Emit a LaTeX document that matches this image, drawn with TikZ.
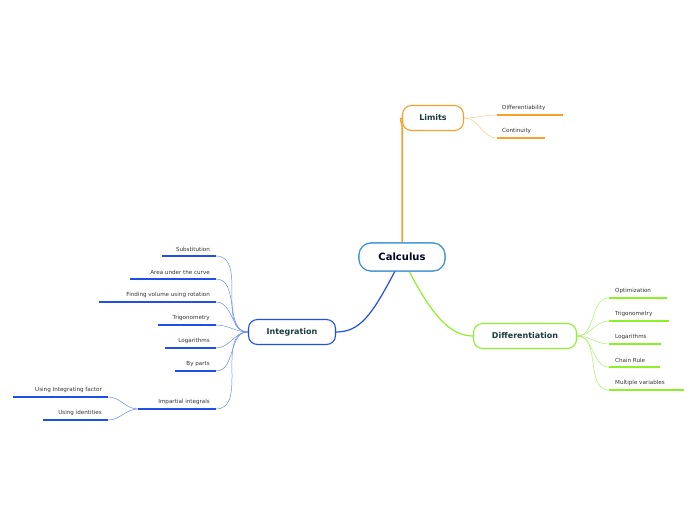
\documentclass[tikz,border=0pt]{standalone}
\usepackage{fontspec}
\setmainfont{DejaVu Sans}
\definecolor{calcblue}{HTML}{3B8FD6}
\definecolor{limorange}{HTML}{F7A12A}
\definecolor{difgreen}{HTML}{8CF02A}
\definecolor{intblue}{HTML}{1F4FE8}
\definecolor{nodetext}{HTML}{1A3D3A}
\tikzset{
  topic/.style={draw, rounded corners=9pt, line width=1.1pt, fill=white, font=\bfseries\fontsize{8}{9}\selectfont, text=nodetext, minimum height=25pt, inner xsep=8pt},
  leaf/.style={font=\fontsize{5.6}{6.5}\selectfont, text=black!80, inner sep=1pt},
  twig/.style={line width=0.5pt}
}
\begin{document}
\begin{tikzpicture}[x=1pt,y=-1pt]
  \useasboundingbox (0,0) rectangle (696,520);
  % main topic and its branches
  \node[topic, draw=calcblue, text=black!60!blue!40!black, font=\bfseries\fontsize{10}{12}\selectfont, minimum width=86pt, minimum height=28pt, rounded corners=12pt] (calc) at (402,257) {Calculus};
  \node[topic, draw=limorange, minimum width=61pt] (lim) at (433,118) {Limits};
  \node[topic, draw=difgreen, minimum width=103pt] (dif) at (525,336) {Differentiation};
  \node[topic, draw=intblue, minimum width=87pt] (int) at (292,332) {Integration};

  \draw[limorange, line width=1.5pt] (calc.north) -- (402,126) to[out=90,in=180] (lim.west);
  \draw[intblue, line width=1.2pt] (395,271) .. controls (372,315) and (360,332) .. (int.east);
  \draw[difgreen, line width=1.2pt] (409,271) .. controls (432,315) and (450,336) .. (dif.west);
  \node[topic, draw=calcblue, text=black!60!blue!40!black, font=\bfseries\fontsize{10}{12}\selectfont, minimum width=86pt, minimum height=28pt, rounded corners=12pt] at (calc) {Calculus};

  % Limits
  \foreach \txt/\y/\xe [count=\i] in {Differentiability/115/563, Continuity/138/545} {
    \coordinate (l\i) at (497,\y);
    \draw[limorange, line width=1.2pt] (l\i) -- (\xe,\y);
    \node[leaf, anchor=south west] at (501,\y-3) {\txt};
    \draw[twig, limorange!55] (lim.east) to[out=0,in=180] (l\i);
  }

  % Differentiation
  \foreach \txt/\y/\xe [count=\i] in {Optimization/298/667, Trigonometry/321/669, Logarithms/344/661, Chain Rule/367/660, Multiple variables/390/684} {
    \coordinate (d\i) at (609,\y);
    \draw[difgreen, line width=1.2pt] (d\i) -- (\xe,\y);
    \node[leaf, anchor=south west] at (614,\y-3) {\txt};
    \draw[twig, difgreen!75] (dif.east) to[out=0,in=180] (d\i);
  }

  % Integration
  \foreach \txt/\y/\xs [count=\i] in {Substitution/256/162, Area under the curve/279/130, Finding volume using rotation/302/99, Trigonometry/325/158, Logarithms/348/165, By parts/371/175, Impartial integrals/409/138} {
    \coordinate (i\i) at (216,\y);
    \draw[intblue, line width=1.2pt] (\xs,\y) -- (i\i);
    \node[leaf, anchor=south east] at (211,\y-3) {\txt};
    \draw[twig, intblue!65] (int.west) to[out=180,in=0] (i\i);
  }

  % Impartial integrals
  \coordinate (imp) at (138,409);
  \foreach \txt/\y/\xs [count=\i] in {Using Integrating factor/397/13, Using identities/420/43} {
    \coordinate (u\i) at (108,\y);
    \draw[intblue, line width=1.2pt] (\xs,\y) -- (u\i);
    \node[leaf, anchor=south east] at (103,\y-3) {\txt};
    \draw[twig, intblue!65] (imp) to[out=180,in=0] (u\i);
  }
\end{tikzpicture}
\end{document}
